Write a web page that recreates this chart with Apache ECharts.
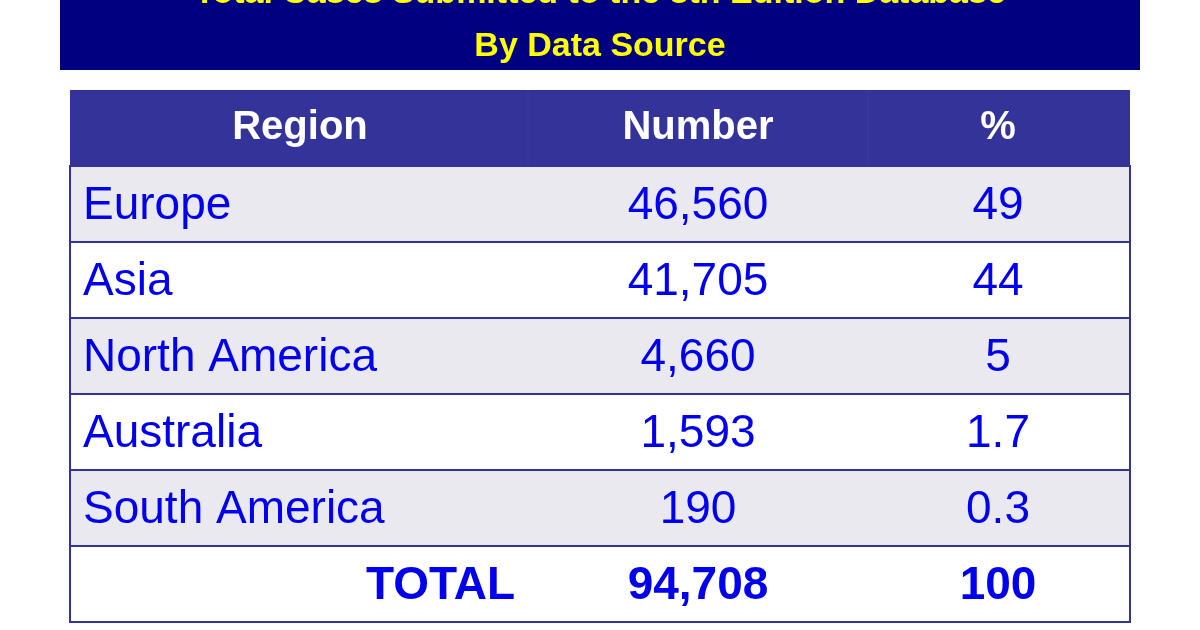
<!DOCTYPE html>
<html><head><meta charset="utf-8">
<script src="https://cdn.jsdelivr.net/npm/echarts@6/dist/echarts.min.js"></script>
<style>html,body{margin:0;padding:0;background:#fff}#chart{width:1200px;height:630px}</style>
</head><body><div id="chart"></div>
<script>
const titleLines = ['Total Cases Submitted to the 8th Edition Database', 'By Data Source'];
const headers = ['Region', 'Number', '%'];
const regions = ['Europe', 'Asia', 'North America', 'Australia', 'South America'];
const numbers = ['46,560', '41,705', '4,660', '1,593', '190'];
const percents = ['49', '44', '5', '1.7', '0.3'];
const totalRow = ['TOTAL', '94,708', '100'];

const chart = echarts.init(document.getElementById('chart'));
const font = 'Liberation Sans, Arial, sans-serif';
const colX = [70, 528, 868, 1130];
const headTop = 90, headH = 76, rowH = 76;
const els = [];

// title banner
els.push({ type: 'rect', shape: { x: 60, y: 0, width: 1080, height: 70 }, style: { fill: '#000080' } });
titleLines.forEach((t, i) => els.push({
  type: 'text', x: 600, y: -6 + i * 53,
  style: { text: t, fill: '#ffff00', font: 'bold 34px ' + font, align: 'center', verticalAlign: 'middle' }
}));

// header
els.push({ type: 'rect', shape: { x: colX[0], y: headTop, width: colX[3] - colX[0], height: headH }, style: { fill: '#333399' } });
headers.forEach((h, i) => {
  if (i > 0) els.push({ type: 'line', shape: { x1: colX[i], y1: headTop, x2: colX[i], y2: headTop + headH }, style: { stroke: '#3a3aa0', lineWidth: 1 } });
  els.push({ type: 'text', x: [300, 698, 998][i], y: headTop + headH / 2,
    style: { text: h, fill: '#ffffff', font: 'bold 40px ' + font, align: 'center', verticalAlign: 'middle' } });
});

const rows = regions.map((r, i) => [r, numbers[i], percents[i]]).concat([totalRow]);
rows.forEach((row, i) => {
  const y = headTop + headH + i * rowH;
  const isTotal = i === rows.length - 1;
  els.push({ type: 'rect', shape: { x: colX[0], y: y, width: colX[3] - colX[0], height: rowH },
    style: { fill: i % 2 === 0 ? '#e9e9ef' : '#ffffff', stroke: '#333399', lineWidth: 2 } });
  const f = (isTotal ? 'bold ' : '') + '46px ' + font;
  els.push({ type: 'text', x: isTotal ? 515 : 83, y: y + rowH / 2 + 2,
    style: { text: row[0], fill: '#0000ee', font: f, align: isTotal ? 'right' : 'left', verticalAlign: 'middle' } });
  els.push({ type: 'text', x: 698, y: y + rowH / 2 + 2,
    style: { text: row[1], fill: '#0000ee', font: f, align: 'center', verticalAlign: 'middle' } });
  els.push({ type: 'text', x: 998, y: y + rowH / 2 + 2,
    style: { text: row[2], fill: '#0000ee', font: f, align: 'center', verticalAlign: 'middle' } });
});

chart.setOption({ animation: false, graphic: { elements: els } });
</script></body></html>
